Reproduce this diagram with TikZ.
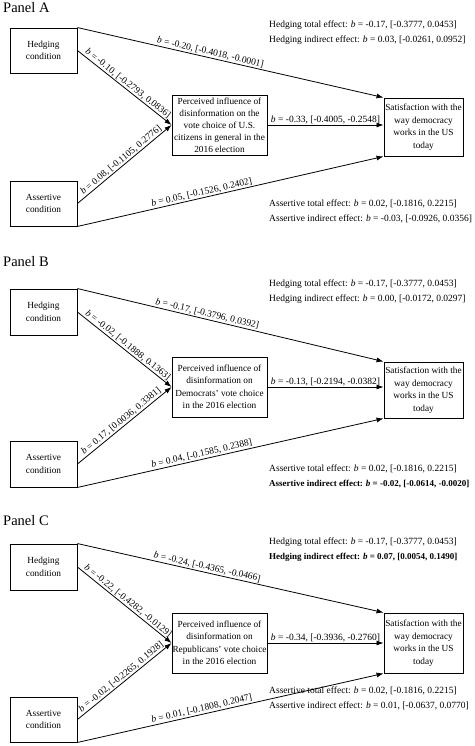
\documentclass[tikz,border=0pt]{standalone}
\usepackage{fontspec}
\setmainfont{Liberation Serif}
\usetikzlibrary{arrows.meta}
\tikzset{
  box/.style={draw, line width=0.9pt, align=center, inner sep=0pt, font=\fontsize{9.3}{12.5}\selectfont},
  conn/.style={line width=0.8pt, -{Latex[length=7pt,width=5pt]}},
  elab/.style={sloped, above, font=\fontsize{9.5}{11}\selectfont, inner sep=1pt},
  note/.style={anchor=base west, font=\fontsize{9.5}{11}\selectfont, inner sep=0pt},
  boldnote/.style={note, font=\fontsize{9}{11}\selectfont\bfseries},
  panel/.style={anchor=base west, font=\fontsize{14.5}{16}\selectfont, inner sep=0pt},
}
\newcommand{\bi}{\textit{b}}
\begin{document}
\begin{tikzpicture}[x=1pt,y=-1pt]
\useasboundingbox (0,0) rectangle (474,746);
\fill[white] (0,0) rectangle (474,746);

% ---------------- Panel A ----------------
\node[panel] (pA) at (3,13) {Panel A};
\node[box, minimum width=67pt, minimum height=45pt] (hedA) at (43.5,50.5) {Hedging\\condition};
\node[box, minimum width=67pt, minimum height=45pt] (assA) at (43.5,203.5) {Assertive\\condition};
\node[box, minimum width=95pt, minimum height=60pt, font=\fontsize{9.3}{12}\selectfont] (medA) at (219.5,125) {Perceived influence of\\disinformation on the\\vote choice of U.S.\\citizens in general in the\\2016 election};
\node[box, minimum width=79pt, minimum height=58pt] (satA) at (423.5,127) {Satisfaction with the\\way democracy\\works in the US\\today};
\draw[conn] (hedA.north east) -- node[elab, pos=0.43] {\bi{} = -0.20, [-0.4018, -0.0001]} (satA.north west);
\draw[conn] (hedA.east) -- node[elab] {\bi{} = -0.10, [-0.2793, 0.0836]} (medA.west);
\draw[conn] (assA.east) -- node[elab] {\bi{} = 0.08, [-0.1105, 0.2776]} (medA.west);
\draw[conn] (assA.south east) -- node[elab, pos=0.41] {\bi{} = 0.05, [-0.1526, 0.2402]} (satA.south west);
\draw[conn] (medA.east) -- node[elab] {\bi{} = -0.33, [-0.4005, -0.2548]} (medA.east -| satA.west);
\node[note] (hAt) at (269,28) {Hedging total effect: \bi{} = -0.17, [-0.3777, 0.0453]};
\node[note] (hAi) at (269,43) {Hedging indirect effect: \bi{} = 0.03, [-0.0261, 0.0952]};
\node[note] (aAt) at (269,206) {Assertive total effect: \bi{} = 0.02, [-0.1816, 0.2215]};
\node[note] (aAi) at (269,221) {Assertive indirect effect: \bi{} = -0.03, [-0.0926, 0.0356]};

% ---------------- Panel B ----------------
\node[panel] (pB) at (3,266) {Panel B};
\node[box, minimum width=67pt, minimum height=46pt] (hedB) at (43.5,312) {Hedging\\condition};
\node[box, minimum width=67pt, minimum height=46pt] (assB) at (43.5,464) {Assertive\\condition};
\node[box, minimum width=95pt, minimum height=60pt] (medB) at (219.5,387) {Perceived influence of\\disinformation on\\Democrats' vote choice\\in the 2016 election};
\node[box, minimum width=79pt, minimum height=56pt] (satB) at (423.5,390) {Satisfaction with the\\way democracy\\works in the US\\today};
\draw[conn] (hedB.north east) -- node[elab, pos=0.42] {\bi{} = -0.17, [-0.3796, 0.0392]} (satB.north west);
\draw[conn] (hedB.east) -- node[elab] {\bi{} = -0.02, [-0.1888, 0.1363]} (medB.west);
\draw[conn] (assB.east) -- node[elab] {\bi{} = 0.17, [0.0036, 0.3381]} (medB.west);
\draw[conn] (assB.south east) -- node[elab, pos=0.41] {\bi{} = 0.04, [-0.1585, 0.2388]} (satB.south west);
\draw[conn] (medB.east) -- node[elab] {\bi{} = -0.13, [-0.2194, -0.0382]} (medB.east -| satB.west);
\node[note] (hBt) at (269,286) {Hedging total effect: \bi{} = -0.17, [-0.3777, 0.0453]};
\node[note] (hBi) at (269,301) {Hedging indirect effect: \bi{} = 0.00, [-0.0172, 0.0297]};
\node[note] (aBt) at (269,471) {Assertive total effect: \bi{} = 0.02, [-0.1816, 0.2215]};
\node[boldnote] (aBi) at (269,486) {Assertive indirect effect: \textit{b} = -0.02, [-0.0614, -0.0020]};

% ---------------- Panel C ----------------
\node[panel] (pC) at (3,525) {Panel C};
\node[box, minimum width=67pt, minimum height=46pt] (hedC) at (43.5,567) {Hedging\\condition};
\node[box, minimum width=67pt, minimum height=45pt] (assC) at (43.5,719.5) {Assertive\\condition};
\node[box, minimum width=95pt, minimum height=60pt] (medC) at (219.5,643) {Perceived influence of\\disinformation on\\Republicans' vote choice\\in the 2016 election};
\node[box, minimum width=79pt, minimum height=60pt] (satC) at (423.5,643) {Satisfaction with the\\way democracy\\works in the US\\today};
\draw[conn] (hedC.north east) -- node[elab, pos=0.42] {\bi{} = -0.24, [-0.4365, -0.0466]} (satC.north west);
\draw[conn] (hedC.east) -- node[elab] {\bi{} = -0.22, [-0.4282, -0.0129]} (medC.west);
\draw[conn] (assC.east) -- node[elab] {\bi{} = -0.02, [-0.2265, 0.1928]} (medC.west);
\draw[conn] (assC.south east) -- node[elab, pos=0.41] {\bi{} = 0.01, [-0.1808, 0.2047]} (satC.south west);
\draw[conn] (medC.east) -- node[elab] {\bi{} = -0.34, [-0.3936, -0.2760]} (medC.east -| satC.west);
\node[note] (hCt) at (269,544) {Hedging total effect: \bi{} = -0.17, [-0.3777, 0.0453]};
\node[boldnote] (hCi) at (269,559) {Hedging indirect effect: \textit{b} = 0.07, [0.0054, 0.1490]};
\node[note] (aCt) at (269,693) {Assertive total effect: \bi{} = 0.02, [-0.1816, 0.2215]};
\node[note] (aCi) at (269,708) {Assertive indirect effect: \bi{} = 0.01, [-0.0637, 0.0770]};
\end{tikzpicture}
\end{document}
